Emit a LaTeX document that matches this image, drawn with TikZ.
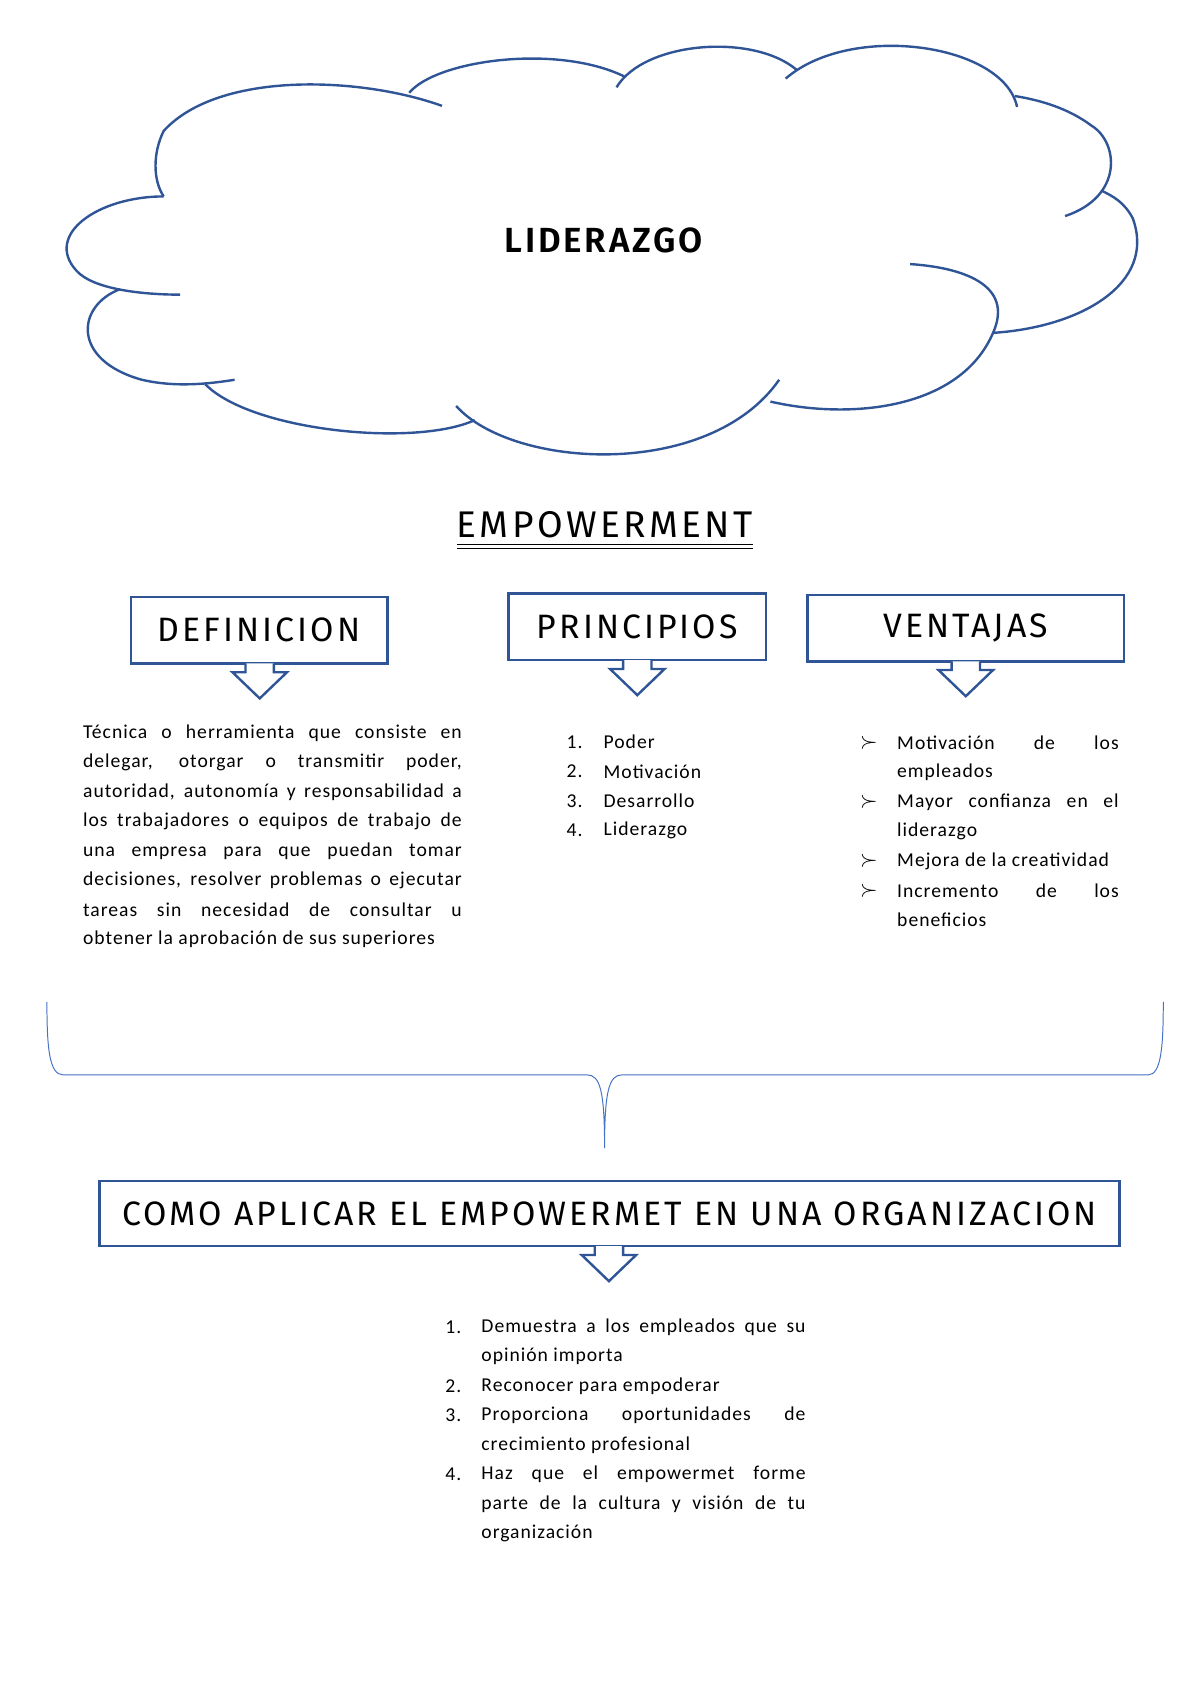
\documentclass[tikz,border=0pt]{standalone}
\usepackage{fontspec}
\setmainfont{Carlito}[LetterSpace=5]
\newfontfamily\titlefont{Fira Sans}[LetterSpace=9]
\newfontfamily\liderfont{Fira Sans SemiBold}[LetterSpace=8]
\definecolor{bx}{HTML}{2F5597}
\definecolor{br}{HTML}{4472C4}
\begin{document}
\begin{tikzpicture}[x=1pt,y=-1pt,
  boxst/.style={draw=bx,line width=2.2pt,fill=white},
  cl/.style={draw=bx,line width=2.2pt},
  ttl/.style={font=\titlefont\fontsize{31}{33}\selectfont},
  body/.style={font=\fontsize{18}{20}\selectfont,anchor=west,inner sep=0pt},
  ]
\useasboundingbox (0,0) rectangle (1100,1556);
% cloud
\draw[cl] (150,180) .. controls (90,180) and (40,215) .. (70,248) .. controls (85,265) and (130,270) .. (165,270);
\draw[cl] (110,265) .. controls (70,280) and (65,330) .. (130,348) .. controls (160,355) and (190,352) .. (215,348);
\draw[cl] (188,352) .. controls (230,395) and (380,410) .. (435,385);
\draw[cl] (418,372) .. controls (470,430) and (650,440) .. (714,348);
\draw[cl] (706,368) .. controls (780,385) and (880,375) .. (910,305) .. controls (930,260) and (880,245) .. (834,242);
\draw[cl] (910,305) .. controls (990,300) and (1060,260) .. (1038,200) .. controls (1030,185) and (1020,180) .. (1010,175);
\draw[cl] (976,198) .. controls (1030,180) and (1025,130) .. (1000,115) .. controls (980,100) and (955,92) .. (930,88);
\draw[cl] (932,98) .. controls (920,40) and (780,20) .. (720,72);
\draw[cl] (730,64) .. controls (690,30) and (590,38) .. (565,80);
\draw[cl] (572,70) .. controls (510,40) and (400,55) .. (375,85);
\draw[cl] (405,97) .. controls (330,70) and (200,65) .. (150,120) .. controls (140,140) and (140,165) .. (150,180);
\node[font=\liderfont\fontsize{32}{34}\selectfont] (lid) at (553,220) {LIDERAZGO};
\node[font=\titlefont\fontsize{34}{36}\selectfont] (emp) at (554,481) {EMPOWERMENT};
\draw[line width=1pt] (419,499)--(690,499) (419,503)--(690,503);
% boxes
\newcommand{\darr}[2]{\draw[boxst] (#1-13,#2)--(#1-13,#2+8)--(#1-25,#2+8)--(#1,#2+32)--(#1+25,#2+8)--(#1+13,#2+8)--(#1+13,#2);}
\node[boxst,minimum width=235pt,minimum height=61pt,ttl] (def) at (237.5,577.5) {DEFINICION};
\node[boxst,minimum width=236pt,minimum height=61pt,ttl] (pri) at (584,574.5) {PRINCIPIOS};
\node[boxst,minimum width=290pt,minimum height=61pt,ttl] (ven) at (885,575.5) {VENTAJAS};
\darr{238}{608}\darr{584}{605}\darr{885}{606}
% definition text
\foreach \t [count=\i] in {{Técnica o herramienta que consiste en},{delegar, otorgar o transmitir poder,},{autoridad, autonomía y responsabilidad a},{los trabajadores o equipos de trabajo de},{una empresa para que puedan tomar},{decisiones, resolver problemas o ejecutar},{tareas sin necesidad de consultar u}}
  \node[body] (d\i) at (76,{645+27*\i}) {\makebox[347pt][s]{\t}};
\node[body] (d8) at (76,861) {obtener la aprobación de sus superiores};
% principios
\foreach \t [count=\i] in {Poder,Motivación,Desarrollo,Liderazgo}{
  \node[body] (pn\i) at (519,{653+27*\i}) {\i.};
  \node[body] (p\i) at (553,{653+27*\i}) {\t};}
% ventajas
\foreach \y in {681,735,789,816} \node[body,font=\fontsize{20}{20}\selectfont] at (788,\y) {$\succ$};
\node[body] (v1) at (822,681) {\makebox[203pt][s]{Motivación de los}};
\node[body] (v1b) at (822,708) {empleados};
\node[body] (v2) at (822,735) {\makebox[203pt][s]{Mayor confianza en el}};
\node[body] (v2b) at (822,762) {liderazgo};
\node[body] (v3) at (822,789) {Mejora de la creatividad};
\node[body] (v4) at (822,816) {\makebox[203pt][s]{Incremento de los}};
\node[body] (v4b) at (822,843) {beneficios};
% brace
\draw[br,line width=0.9pt] (43,918) .. controls (43,960) and (45,985) .. (58,985) -- (538,985) .. controls (550,985) and (554,1000) .. (554,1052) .. controls (554,1000) and (558,985) .. (570,985) -- (1052,985) .. controls (1064,985) and (1066,960) .. (1066,918);
% bottom
\node[boxst,minimum width=935pt,minimum height=60pt,ttl] (como) at (558.5,1112) {COMO APLICAR EL EMPOWERMET EN UNA ORGANIZACION};
\darr{558}{1142}
\node[body] at (408,1216) {1.};
\node[body] at (441,1216) {\makebox[297pt][s]{Demuestra a los empleados que su}};
\node[body] at (441,1243) {opinión importa};
\node[body] at (408,1270) {2.};
\node[body] at (441,1270) {Reconocer para empoderar};
\node[body] at (408,1297) {3.};
\node[body] at (441,1297) {\makebox[297pt][s]{Proporciona oportunidades de}};
\node[body] at (441,1324) {crecimiento profesional};
\node[body] at (408,1351) {4.};
\node[body] at (441,1351) {\makebox[297pt][s]{Haz que el empowermet forme}};
\node[body] at (441,1378) {\makebox[297pt][s]{parte de la cultura y visión de tu}};
\node[body] at (441,1405) {organización};
\end{tikzpicture}
\end{document}
